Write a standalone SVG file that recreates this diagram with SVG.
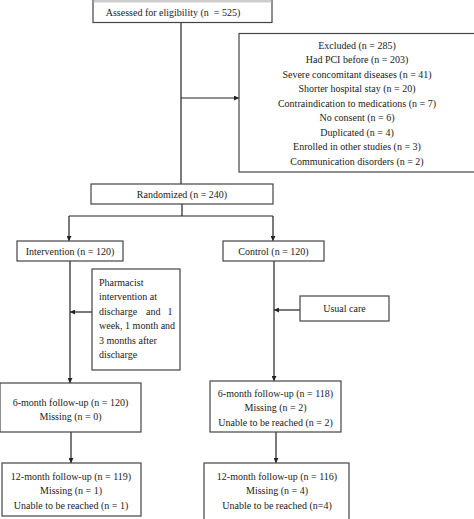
<svg xmlns="http://www.w3.org/2000/svg" width="474" height="519" viewBox="0 0 474 519">
<style>
.box{fill:#fff;stroke:#444;stroke-width:1.2}
.ln{fill:none;stroke:#222;stroke-width:1.2}
text{font-family:"Liberation Serif","Times New Roman",serif;font-size:10px;fill:#222}
.c{text-anchor:middle}
</style>
<defs>
<marker id="ah" viewBox="0 0 6 6" refX="6" refY="3" markerWidth="5" markerHeight="5" markerUnits="userSpaceOnUse" orient="auto">
<path d="M0,0 L6,3 L0,6 z" fill="#222"/>
</marker>
</defs>
<rect width="474" height="519" fill="#fff"/>
<g id="connectors">
<path class="ln" d="M181,22.5 V184"/>
<path class="ln" d="M181,98 H239" marker-end="url(#ah)"/>
<path class="ln" d="M182,204 V216"/>
<path class="ln" d="M69,216 H273"/>
<path class="ln" d="M69,216 V241" marker-end="url(#ah)"/>
<path class="ln" d="M273,216 V241" marker-end="url(#ah)"/>
<path class="ln" d="M70,261 V383" marker-end="url(#ah)"/>
<path class="ln" d="M92,312 H70" marker-end="url(#ah)"/>
<path class="ln" d="M274,261 V381" marker-end="url(#ah)"/>
<path class="ln" d="M300,310 H274" marker-end="url(#ah)"/>
<path class="ln" d="M71,432 V463" marker-end="url(#ah)"/>
<path class="ln" d="M276,432 V463" marker-end="url(#ah)"/>
</g>
<g id="assessed">
<rect x="0" y="0" width="474" height="0" fill="none"/>
<rect class="box" x="93" y="0" width="179" height="22.5"/>
<rect x="93.6" y="0" width="177.8" height="2.5" fill="#ccc"/>
<text class="c" x="173" y="16" xml:space="preserve">Assessed for eligibility (n  = 525)</text>
</g>
<g id="excluded">
<rect class="box" x="239" y="33.5" width="240" height="138.5"/>
<text class="c" x="357" y="48.5">Excluded (n = 285)</text>
<text class="c" x="357" y="63">Had PCI before (n = 203)</text>
<text class="c" x="357" y="77.5">Severe concomitant diseases (n = 41)</text>
<text class="c" x="357" y="92">Shorter hospital stay (n = 20)</text>
<text class="c" x="357" y="106.5">Contraindication to medications (n = 7)</text>
<text class="c" x="357" y="121">No consent (n = 6)</text>
<text class="c" x="357" y="135.5">Duplicated (n = 4)</text>
<text class="c" x="357" y="150">Enrolled in other studies (n = 3)</text>
<text class="c" x="357" y="164.5">Communication disorders (n = 2)</text>
</g>
<g id="randomized">
<rect class="box" x="91" y="184" width="182" height="20"/>
<text class="c" x="182" y="197.5">Randomized (n = 240)</text>
</g>
<g id="intervention">
<rect class="box" x="17" y="241" width="106" height="20"/>
<text class="c" x="70" y="254.5">Intervention (n = 120)</text>
</g>
<g id="control">
<rect class="box" x="223" y="241" width="101" height="20"/>
<text class="c" x="273.5" y="254.5">Control (n = 120)</text>
</g>
<g id="pharmacist">
<rect class="box" x="92" y="269" width="88" height="101"/>
<text x="99" y="285.5">Pharmacist</text>
<text x="99" y="300">intervention at</text>
<text y="314.5"><tspan x="99">discharge</tspan><tspan x="146">and</tspan><tspan x="172.5" text-anchor="end">1</tspan></text>
<text x="99" y="329">week, 1 month and</text>
<text x="99" y="343.5">3 months after</text>
<text x="99" y="358">discharge</text>
</g>
<g id="usualcare">
<rect class="box" x="300" y="296" width="89" height="25"/>
<text class="c" x="344.5" y="312">Usual care</text>
</g>
<g id="int6">
<rect class="box" x="0" y="383" width="141" height="49"/>
<text class="c" x="70.5" y="405.5">6-month follow-up (n = 120)</text>
<text class="c" x="70.5" y="420">Missing (n = 0)</text>
</g>
<g id="ctl6">
<rect class="box" x="210" y="381" width="131" height="51"/>
<text class="c" x="275.5" y="396.5">6-month follow-up (n = 118)</text>
<text class="c" x="275.5" y="411">Missing (n = 2)</text>
<text class="c" x="275.5" y="425.5">Unable to be reached (n = 2)</text>
</g>
<g id="int12">
<rect class="box" x="2" y="463" width="139" height="53"/>
<text class="c" x="71" y="479.5">12-month follow-up (n = 119)</text>
<text class="c" x="71" y="494">Missing (n = 1)</text>
<text class="c" x="71" y="508.5">Unable to be reached (n = 1)</text>
</g>
<g id="ctl12">
<rect class="box" x="204" y="463" width="145" height="60"/>
<text class="c" x="277" y="479.5">12-month follow-up (n = 116)</text>
<text class="c" x="277" y="494">Missing (n = 4)</text>
<text class="c" x="277" y="508.5">Unable to be reached (n=4)</text>
</g>
</svg>
